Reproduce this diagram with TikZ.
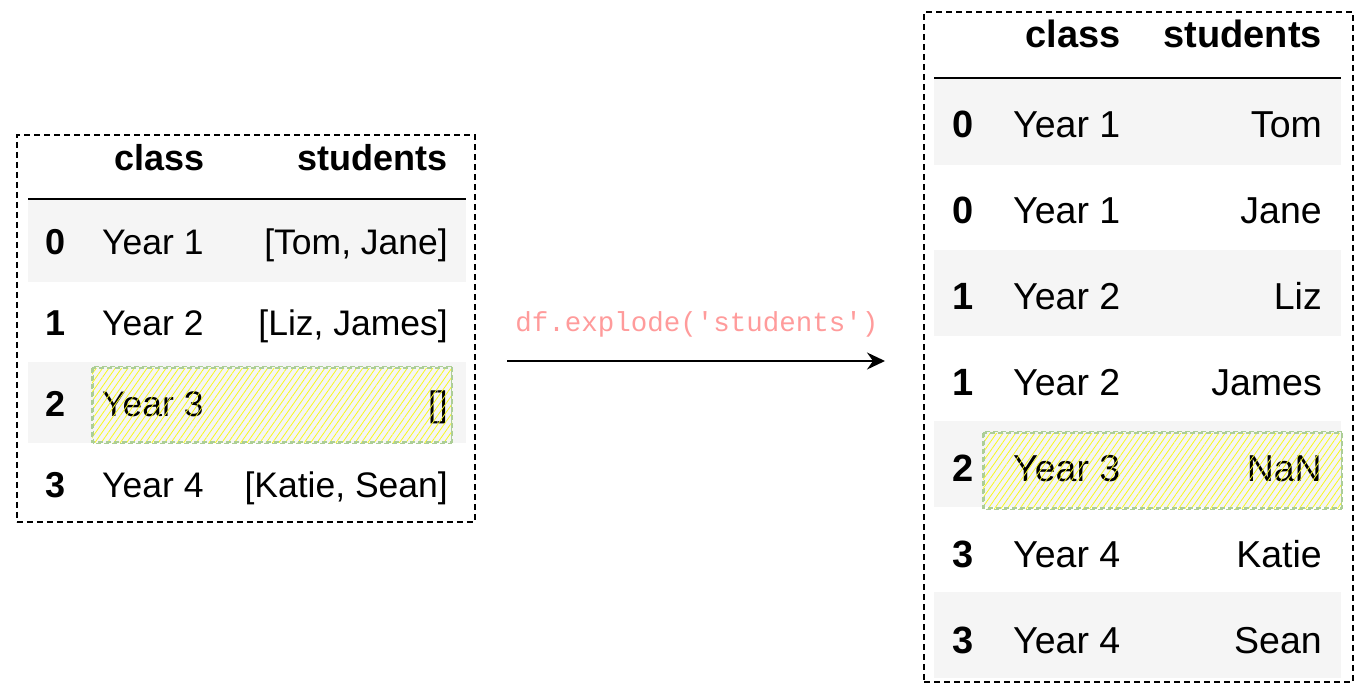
\documentclass[tikz,border=0pt]{standalone}
\usepackage{fontspec}
\setmainfont{Liberation Sans}
\newfontfamily\codefont{Liberation Mono}
\usetikzlibrary{arrows.meta,patterns.meta}
\definecolor{rowshade}{RGB}{245,245,245}
\definecolor{codepink}{RGB}{255,155,155}
\definecolor{hlgreen}{RGB}{172,206,150}
\definecolor{hlyellow}{RGB}{248,248,30}
\begin{document}
\begin{tikzpicture}[x=1pt,y=-1pt,
  frame/.style={draw=black,line width=1.8pt,dash pattern=on 6pt off 4pt,inner sep=0pt,anchor=north west},
  shadebox/.style={fill=rowshade,draw=none},
  rule/.style={line width=2.2pt,draw=black},
  txtL/.style={inner sep=0pt,font=\fontsize{35.5}{40}\selectfont},
  txtR/.style={inner sep=0pt,font=\fontsize{37.5}{42}\selectfont},
  hdrL/.style={inner sep=0pt,font=\fontsize{36}{40}\selectfont\bfseries},
  hdrR/.style={inner sep=0pt,font=\fontsize{38}{42}\selectfont\bfseries},
  hatch/.style={pattern={Lines[angle=55,distance=5.2pt,line width=0.8pt]},pattern color=hlyellow},
  hlborder/.style={draw=hlgreen,line width=1.6pt,dash pattern=on 5pt off 3pt},
  arrowline/.style={line width=1.7pt,-{Stealth[length=18pt,width=17pt,inset=6pt]}},
  codetxt/.style={inner sep=0pt,text=codepink,font=\fontsize{27.5}{32}\selectfont\codefont}
]
\useasboundingbox (0,0) rectangle (1358,696);

% ---------------- left table ----------------
\fill[shadebox] (28,200) rectangle (466,282);
\fill[shadebox] (28,362) rectangle (466,443);
\node[frame,minimum width=458pt,minimum height=387pt] (ltab) at (16,134) {};
\draw[rule] (28,199) -- (466,199);
\node[hdrL,anchor=base east] (lhclass) at (205,170) {class};
\node[hdrL,anchor=base east] (lhstud) at (448,170) {students};
\foreach \i/\c/\s in {0/Year 1/{[Tom, Jane]},1/Year 2/{[Liz, James]},2/Year 3/{[]},3/Year 4/{[Katie, Sean]}}{
  \node[hdrL,anchor=base] (lidx\i) at (56,254+81*\i) {\i};
  \node[txtL,anchor=base west] (lcls\i) at (102,254+81*\i) {\c};
  \node[txtL,anchor=base east] (lstu\i) at (448,254+81*\i) {\s};
}
\fill[hatch] (92,368) rectangle (452,442);
\draw[hlborder] (92,368) rectangle (452,442);
\draw[hlborder,line width=0.8pt] (93,366.5) rectangle (451,443.5);

% ---------------- arrow ----------------
\coordinate (arrS) at (507,361);
\coordinate (arrE) at (885,361);
\draw[arrowline] (arrS) -- (arrE);
\node[codetxt,anchor=base] (code) at (697,331) {df.explode('students')};

% ---------------- right table ----------------
\foreach \k in {0,2,4,6}{
  \fill[shadebox] (934,79+85.5*\k) rectangle (1341,164.5+85.5*\k);
}
\node[frame,minimum width=429pt,minimum height=670pt] (rtab) at (923,11) {};
\draw[rule] (934,78) -- (1341,78);
\node[hdrR,anchor=base east] (rhclass) at (1121,47) {class};
\node[hdrR,anchor=base east] (rhstud) at (1322,47) {students};
\foreach \k/\i/\c/\s in {0/0/Year 1/Tom,1/0/Year 1/Jane,2/1/Year 2/Liz,3/1/Year 2/James,4/2/Year 3/NaN,5/3/Year 4/Katie,6/3/Year 4/Sean}{
  \node[hdrR,anchor=base] (ridx\k) at (963,137+86*\k) {\i};
  \node[txtR,anchor=base west] (rcls\k) at (1013,137+86*\k) {\c};
  \node[txtR,anchor=base east] (rstu\k) at (1322,137+86*\k) {\s};
}
\fill[hatch] (983,433) rectangle (1342,508);
\draw[hlborder] (983,433) rectangle (1342,508);
\draw[hlborder,line width=0.8pt] (984,431.5) rectangle (1341,509.5);
\end{tikzpicture}
\end{document}
